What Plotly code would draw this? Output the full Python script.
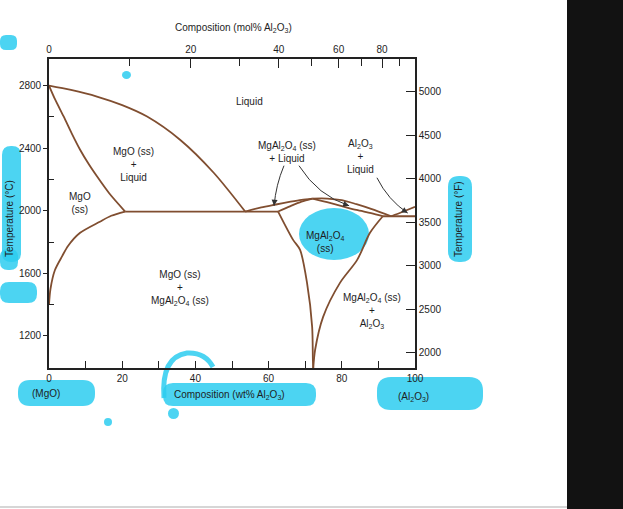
import plotly.graph_objects as go

# phase boundaries: composition (wt% Al2O3) and temperature (deg C)
liq_mgo_wt = [0, 6, 13.1, 20, 26.8, 35.8, 45.0, 53.6]
liq_mgo_T = [2800, 2772, 2730, 2675, 2602, 2454, 2243, 1995]

sol_mgo_wt = [0, 1.7, 4.0, 6.2, 8.5, 10.8, 13.1, 16.5, 20.8]
sol_mgo_T = [2800, 2710, 2603, 2495, 2390, 2300, 2220, 2110, 1995]

solvus_mgo_wt = [20.8, 17, 13.9, 8.5, 5.2, 3.6, 1.6, 0.4, 0]
solvus_mgo_T = [1995, 1968, 1930, 1859, 1775, 1710, 1620, 1500, 1400]

eut1_wt = [20.8, 62.6]
eut1_T = [1995, 1995]

liq_sp_left_wt = [53.6, 58, 62, 66, 69, 72]
liq_sp_left_T = [1995, 2022, 2040, 2058, 2070, 2078]

sol_sp_left_wt = [62.6, 66, 69, 72]
sol_sp_left_T = [1995, 2030, 2058, 2078]

liq_sp_right_wt = [72, 76, 80, 84, 88, 93.5]
liq_sp_right_T = [2078, 2078, 2068, 2042, 2012, 1965]

sol_sp_right_wt = [72, 76, 80, 84, 88, 91.2]
sol_sp_right_T = [2078, 2055, 2030, 2005, 1985, 1965]

eut2_wt = [91.2, 100]
eut2_T = [1965, 1965]

liq_al_wt = [93.5, 96.5, 100]
liq_al_T = [1965, 1992, 2025]

solvus_sp_left_wt = [62.6, 66.7, 68.6, 70.5, 71.9, 72.1, 72.2]
solvus_sp_left_T = [1995, 1814, 1750, 1539, 1258, 1046, 995]

solvus_sp_right_wt = [91.2, 87.7, 84.2, 79.5, 74.9, 72.7, 72.2]
solvus_sp_right_T = [1965, 1859, 1686, 1539, 1322, 1110, 995]

# axes
T_RANGE = [995, 2970]
wt_labels = [0, 20, 40, 60, 80, 100]
wt_minor = [10, 30, 50, 70, 90]
mol_labels = [0, 20, 40, 60, 80]
mol_minor = [10, 30, 50, 70, 90]
c_major = [1200, 1600, 2000, 2400, 2800]
c_minor = [1400, 1800, 2200, 2600]
f_ticks = [2000, 2500, 3000, 3500, 4000, 4500, 5000]

M_MGO = 40.30
M_AL2O3 = 101.96

# region labels: (text, wt%, deg C)
AL = 'Al<sub>2</sub>O<sub>3</sub>'
SP = 'MgAl<sub>2</sub>O<sub>4</sub>'
region_labels = [
    ('Liquid', 54.9, 2698),
    ('MgO (ss)<br>+<br>Liquid', 23.0, 2295),
    ('MgO<br>(ss)', 8.5, 2051),
    (SP + ' (ss)<br>+ Liquid', 65.0, 2375),
    (AL + '<br>+<br>Liquid', 85.0, 2350),
    (SP + '<br>(ss)', 75.4, 1800),
    ('MgO (ss)<br>+<br>' + SP + ' (ss)', 35.8, 1505),
    (SP + ' (ss)<br>+<br>' + AL, 88.3, 1358),
]

# pointer arrows: start, control, end (wt%, deg C)
pointers = [
    ((64.2, 2288), (62.0, 2166), (61.5, 2032)),
    ((68.3, 2288), (73.5, 2096), (82.0, 2032)),
    ((89.6, 2211), (92.6, 2070), (98.0, 1985)),
]

LINE = 'rgb(128,78,48)'
TXT = '#1e1e1e'
FONT = 'Liberation Sans, Arial, sans-serif'
HL = 'rgba(45,205,240,0.85)'

L, R, T, B = 49, 415, 59, 368


def fx(p):
    return (p - L) / (R - L)


def fy(p):
    return (B - p) / (B - T)


def mol_to_wt(m):
    return 100 * m * M_AL2O3 / (m * M_AL2O3 + (100 - m) * M_MGO)


def blob(x0, y0, x1, y1, r):
    # rounded rectangle in paper coords, given in pixels
    return ('M {a},{b} L {c},{b} Q {d},{b} {d},{e} L {d},{f} Q {d},{g} {c},{g} '
            'L {a},{g} Q {h},{g} {h},{f} L {h},{e} Q {h},{b} {a},{b} Z').format(
        a=fx(x0 + r), b=fy(y0), c=fx(x1 - r), d=fx(x1), e=fy(y0 + r),
        f=fy(y1 - r), g=fy(y1), h=fx(x0))


fig = go.Figure()

curves = [
    (liq_mgo_wt, liq_mgo_T, 'spline'),
    (sol_mgo_wt, sol_mgo_T, 'spline'),
    (solvus_mgo_wt, solvus_mgo_T, 'spline'),
    (eut1_wt, eut1_T, 'linear'),
    (liq_sp_left_wt, liq_sp_left_T, 'spline'),
    (sol_sp_left_wt, sol_sp_left_T, 'spline'),
    (liq_sp_right_wt, liq_sp_right_T, 'spline'),
    (sol_sp_right_wt, sol_sp_right_T, 'spline'),
    (eut2_wt, eut2_T, 'linear'),
    (liq_al_wt, liq_al_T, 'spline'),
    (solvus_sp_left_wt, solvus_sp_left_T, 'spline'),
    (solvus_sp_right_wt, solvus_sp_right_T, 'spline'),
]
for xs, ys, shp in curves:
    fig.add_trace(go.Scatter(x=xs, y=ys, mode='lines', showlegend=False,
                             hoverinfo='skip',
                             line=dict(color=LINE, width=1.8, shape=shp,
                                       smoothing=0.8)))

# dummy trace so the top / right axes get drawn
fig.add_trace(go.Scatter(x=[None], y=[None], xaxis='x2', yaxis='y2',
                         showlegend=False, hoverinfo='skip'))

shapes = []
annotations = []

# highlighter marks
for x0, y0, x1, y1, r in [(0, 35, 17, 50, 6), (2, 146, 21, 262, 9),
                          (0, 249, 18, 270, 8), (0, 282, 37, 303, 9),
                          (18, 380, 95, 406, 12), (163, 383, 316, 406, 10),
                          (377, 377, 483, 410, 14), (448, 176, 472, 262, 11)]:
    shapes.append(dict(type='path', xref='paper', yref='paper', layer='below',
                       path=blob(x0, y0, x1, y1, r), fillcolor=HL, line=dict(width=0)))
for x0, y0, x1, y1 in [(299, 208, 369, 260), (168, 408, 179, 419),
                       (104, 418, 112, 426), (122, 71, 131, 79)]:
    shapes.append(dict(type='circle', xref='paper', yref='paper', layer='below',
                       x0=fx(x0), x1=fx(x1), y0=fy(y1), y1=fy(y0),
                       fillcolor=HL, line=dict(width=0)))
loop = 'M {},{} Q {},{} {},{} Q {},{} {},{}'.format(
    fx(164), fy(398), fx(161), fy(357), fx(187), fy(353),
    fx(205), fy(352), fx(213), fy(367))
shapes.append(dict(type='path', xref='paper', yref='paper', layer='below',
                   path=loop, line=dict(color=HL, width=5)))

# dark strip at the right edge of the scan
shapes.append(dict(type='rect', xref='paper', yref='paper', layer='above',
                   x0=fx(567), x1=fx(640), y0=fy(520), y1=fy(-10),
                   fillcolor='#121212', line=dict(width=0)))
shapes.append(dict(type='line', xref='paper', yref='paper',
                   x0=fx(0), x1=fx(567), y0=fy(507), y1=fy(507),
                   line=dict(color='#c8c8c8', width=1.5)))

# pointer arrows
for (sx, sy), (cx, cy), (ex, ey) in pointers:
    shapes.append(dict(type='path', xref='x', yref='y',
                       path='M {},{} Q {},{} {},{}'.format(sx, sy, cx, cy, ex, ey),
                       line=dict(color='#333', width=1)))
    dx = (cx - ex) * (R - L) / 100
    dy = -(cy - ey) * (B - T) / (T_RANGE[1] - T_RANGE[0])
    n = (dx ** 2 + dy ** 2) ** 0.5
    annotations.append(dict(x=ex, y=ey, xref='x', yref='y', text='',
                            showarrow=True, arrowhead=2, arrowsize=1.2,
                            arrowwidth=1, arrowcolor='#333',
                            ax=dx / n * 7, ay=dy / n * 7))

for txt, x, y in region_labels:
    annotations.append(dict(x=x, y=y, xref='x', yref='y', text=txt,
                            showarrow=False, font=dict(size=10, color=TXT),
                            align='center', xanchor='center', yanchor='middle'))

# axis titles and end member labels
for txt, x, y, ang in [
        ('Composition (mol% ' + AL + ')', 233, 28, 0),
        ('Composition (wt% ' + AL + ')', 229, 395, 0),
        ('(MgO)', 46, 393, 0),
        ('(' + AL + ')', 413, 397, 0),
        ('Temperature (°C)', 9, 219, -90),
        ('Temperature (°F)', 458, 219, -90)]:
    annotations.append(dict(x=fx(x), y=fy(y), xref='paper', yref='paper',
                            text=txt, showarrow=False, textangle=ang,
                            xanchor='center', yanchor='middle',
                            font=dict(size=10, color=TXT)))

axis_style = dict(tickcolor='#222', tickwidth=1.2, showline=True,
                  linecolor='#222', linewidth=1.6, showgrid=False,
                  zeroline=False)

fig.update_layout(
    width=623, height=509,
    margin=dict(l=L, r=623 - R, t=T, b=509 - B),
    paper_bgcolor='white', plot_bgcolor='white',
    font=dict(family=FONT, size=10, color=TXT),
    showlegend=False,
    shapes=shapes, annotations=annotations,
    xaxis=dict(range=[0, 100], tickvals=wt_labels, ticks='inside', ticklen=7,
               minor=dict(tickvals=wt_minor, ticks='inside', ticklen=7,
                          tickcolor='#222'),
               **axis_style),
    xaxis2=dict(range=[0, 100], overlaying='x', side='top',
                tickvals=[mol_to_wt(m) for m in mol_labels],
                ticktext=[str(m) for m in mol_labels],
                ticks='inside', ticklen=9,
                minor=dict(tickvals=[mol_to_wt(m) for m in mol_minor],
                           ticks='inside', ticklen=7, tickcolor='#222'),
                **axis_style),
    yaxis=dict(range=T_RANGE, tickvals=c_major, ticks='outside', ticklen=4,
               minor=dict(tickvals=c_minor, ticks='inside', ticklen=5,
                          tickcolor='#222'),
               **axis_style),
    yaxis2=dict(range=[c * 1.8 + 32 for c in T_RANGE], overlaying='y',
                side='right', tickvals=f_ticks, ticks='inside', ticklen=9,
                **axis_style),
)

fig.write_html("out.html", config={'displayModeBar': False},
               post_script="document.body.style.margin='0';")
